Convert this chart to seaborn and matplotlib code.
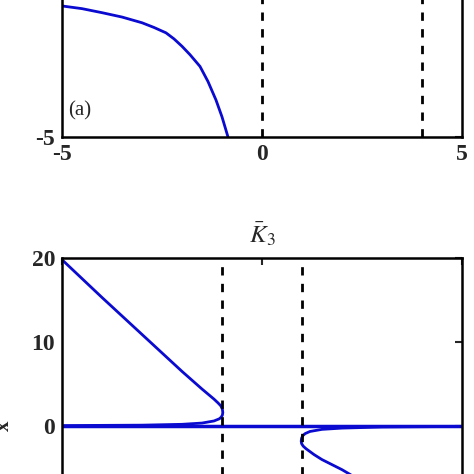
import matplotlib
matplotlib.use("Agg")
import matplotlib.pyplot as plt
import seaborn as sns

sns.set_style("white")
plt.rcParams['font.family'] = ['Liberation Serif', 'DejaVu Serif']
plt.rcParams['mathtext.fontset'] = 'stix'
plt.rcParams['axes.unicode_minus'] = False

# panel (a)
k_a = [-5, -4.5, -4, -3.5, -3, -2.7, -2.4, -2.2, -2, -1.8, -1.55, -1.35, -1.15, -1.0, -0.9, -0.85]
y_a = [-1.1, -1.18, -1.3, -1.43, -1.6, -1.74, -1.9, -2.08, -2.3, -2.55, -2.9, -3.35, -3.9, -4.4, -4.8, -5.0]
dash_a = [0, 4]

# panel (b)
k_left = [-5, -4, -3, -2, -1.5, -1.2, -1.1, -1.03, -0.99, -0.98, -0.99, -1.02, -1.07, -1.2, -1.5, -2, -3, -5]
x_left = [19.8, 15.3, 10.9, 6.5, 4.4, 3.2, 2.75, 2.4, 2.0, 1.6, 1.3, 1.05, 0.85, 0.6, 0.35, 0.2, 0.1, 0.05]
k_right = [5, 3, 2, 1.5, 1.2, 1.08, 1.02, 0.99, 0.98, 0.99, 1.03, 1.1, 1.3, 1.5, 2.0, 2.5]
x_right = [-0.05, -0.12, -0.25, -0.4, -0.65, -0.9, -1.15, -1.45, -1.8, -2.1, -2.4, -2.7, -3.4, -4.0, -5.2, -6.6]
k_zero = [-5, 5]
x_zero = [0, 0]
dash_b = [-1, 1]

blue = '#0a0ad0'
fig = plt.figure(figsize=(4.74, 4.74), dpi=100)
ax1 = fig.add_axes([62/474, (474-137)/474, 400/474, 336/474])
ax2 = fig.add_axes([62/474, (474-594)/474, 400/474, 336/474])

def style(ax):
    for s in ax.spines.values():
        s.set_linewidth(1.8); s.set_color('black')
    ax.tick_params(direction='in', length=5, width=1.5, top=True, right=True,
                   labelsize=17, pad=5)
    for l in ax.get_xticklabels() + ax.get_yticklabels():
        l.set_fontweight('bold')

kw = dict(color=blue, lw=2, sort=False, estimator=None)
sns.lineplot(x=k_a, y=y_a, ax=ax1, **kw)
for d in dash_a:
    ax1.axvline(d, color='black', ls=(0, (3, 3)), lw=2)
ax1.set_xlim(-5, 5); ax1.set_ylim(-5, 5)
ax1.set_xticks([-5, 0, 5]); ax1.set_yticks([-5])
ax1.text(-4.85, -4.35, '(a)', fontsize=15)
ax1.set_xlabel(r'$\bar{K}_3$', fontsize=18, labelpad=40)
style(ax1)

sns.lineplot(x=k_left, y=x_left, ax=ax2, **kw)
sns.lineplot(x=k_right, y=x_right, ax=ax2, **kw)
sns.lineplot(x=k_zero, y=x_zero, ax=ax2, color=blue, lw=2.5, sort=False, estimator=None)
for d in dash_b:
    ax2.axvline(d, color='black', ls=(0, (3, 3)), lw=2)
ax2.set_xlim(-5, 5); ax2.set_ylim(-20, 20)
ax2.set_xticks([-5, 0, 5]); ax2.set_yticks([0, 10, 20])
ax2.set_ylabel('x', fontsize=15, fontweight='bold', labelpad=2)
style(ax2)
ax2.tick_params(labelbottom=False)
ax2.yaxis.set_label_coords(-0.12, 0.5 + 0.0)

fig.savefig('out.png', dpi=100)
